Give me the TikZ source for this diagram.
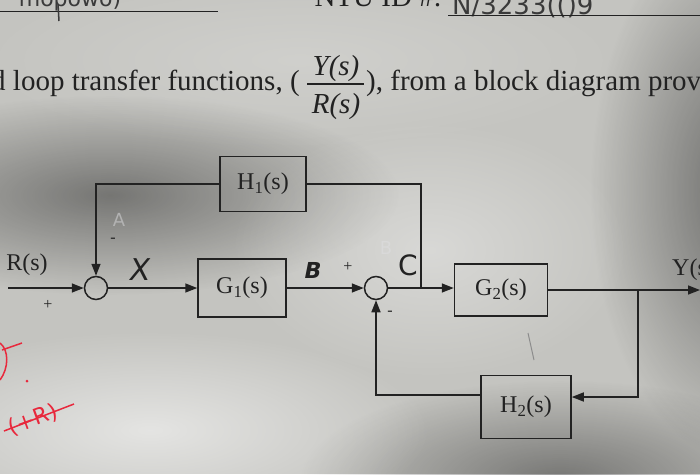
\documentclass[tikz,border=0pt]{standalone}
\usepackage{fontspec}
\setmainfont{Liberation Serif}
\newfontfamily\handfont{DejaVu Sans}
\usetikzlibrary{arrows.meta,fadings}
\tikzfading[name=softedge, inner color=transparent!0, outer color=transparent!100]
\definecolor{ink}{HTML}{222222}
\definecolor{paper}{HTML}{C4C4C0}
\definecolor{redink}{HTML}{E8283C}
\definecolor{pencil}{HTML}{3A3A3A}
\begin{document}
\begin{tikzpicture}[x=1pt,y=-1pt,
  blk/.style={draw=ink, line width=1.5pt, inner sep=0pt, text=ink, font=\fontsize{24}{28}\selectfont},
  sumc/.style={circle, draw=ink, line width=1.5pt, minimum size=23pt, inner sep=0pt},
  wire/.style={draw=ink, line width=1.5pt},
  arr/.style={wire, -{Triangle[length=12pt,width=9pt]}},
  lbl/.style={text=ink, inner sep=0pt, font=\fontsize{24}{28}\selectfont},
  toptext/.style={text=ink, inner sep=0pt, font=\fontsize{29}{32}\selectfont},
  sign/.style={text=ink, inner sep=0pt, font=\fontsize{16}{18}\selectfont},
  hand/.style={inner sep=0pt, font=\handfont\fontsize{22}{26}\selectfont}]
\useasboundingbox (0,0) rectangle (700,474);
\clip (0,0) rectangle (700,474);
% background (photographed paper)
\fill[paper] (0,0) rectangle (700,474);
\fill[black, opacity=.40, path fading=softedge] (110,195) ellipse (290 and 100);
\fill[black, opacity=.45, path fading=softedge] (740,190) ellipse (150 and 270);
\fill[black, opacity=.40, path fading=softedge] (560,480) ellipse (260 and 100);
\fill[white, opacity=.55, path fading=softedge] (150,430) ellipse (280 and 100);
\fill[white, opacity=.35, path fading=softedge] (430,250) ellipse (200 and 130);
\fill[white, opacity=.20, path fading=softedge] (300,60) ellipse (330 and 90);
% header
\draw[ink, line width=1pt] (0,11) -- (218,11);
\node[hand, text=pencil, anchor=base] at (70,6) {mopowo)};
\draw[pencil, line width=1.5pt] (58,4) -- (59,21);
\node[toptext, anchor=base east] at (442,6) {NTU ID \#:};
\node[hand, text=pencil, anchor=base west, font=\handfont\fontsize{26}{28}\selectfont] at (452,14) {N/3233(()9};
\draw[ink, line width=1pt] (448,15) -- (700,15);
% question text
\node[toptext, anchor=base west] (q1) at (-9,90) {d loop transfer functions, (};
\node[toptext, anchor=base] (num) at (336,75) {\itshape Y(s)};
\draw[ink, line width=1.2pt] (307,84) -- (364,84);
\node[toptext, anchor=base] (den) at (336,113) {\itshape R(s)};
\node[toptext, anchor=base west] (q2) at (366,90) {), from a block diagram provided};
% blocks
\node[sumc] (s1) at (96,288) {};
\node[blk, minimum width=88pt, minimum height=58pt] (G1) at (242,288) {G\textsubscript{1}(s)};
\node[sumc] (s2) at (376,288) {};
\node[blk, minimum width=93pt, minimum height=52pt] (G2) at (501,290) {G\textsubscript{2}(s)};
\node[blk, minimum width=86pt, minimum height=55pt] (H1) at (263,184) {H\textsubscript{1}(s)};
\node[blk, minimum width=90pt, minimum height=63pt] (H2) at (526,407) {H\textsubscript{2}(s)};
\coordinate (Rin) at (8,288);
\coordinate (j1) at (421,288);
\coordinate (j2) at (638,290);
\coordinate (Yout) at (700,290);
% connectors
\draw[arr] (Rin) -- (s1);
\draw[arr] (s1) -- (G1);
\draw[arr] (G1) -- (s2);
\draw[arr] (s2.east) -- (s2.east -| G2.west);
\draw[wire] (j1) |- (H1.east);
\draw[arr] (H1.west) -| (s1.north);
\draw[arr] (G2.east |- Yout) -- (Yout);
\draw[arr] (j2) |- ([yshift=10pt]H2.east);
\draw[arr] ([yshift=12pt]H2.west) -| (s2.south);
% labels
\node[lbl] (lR) at (27,265) {R(s)};
\node[lbl, anchor=west] (lY) at (672,270) {Y(s)};
\node[sign] at (48,305) {+};
\node[sign] at (113,240) {-};
\node[sign] at (348,267) {+};
\node[sign] at (390,313) {-};
% handwritten annotations
\node[hand, text=ink, font=\handfont\fontsize{30}{32}\selectfont, xslant=.15] at (140,270) {X};
\node[hand, text=ink, font=\handfont\bfseries\fontsize{22}{26}\selectfont, xslant=.2] at (313,270) {B};
\node[hand, text=ink, font=\handfont\fontsize{28}{30}\selectfont] at (408,265) {C};
\node[hand, text=black!30, font=\handfont\fontsize{18}{20}\selectfont] at (119,220) {A};
\node[hand, text=black!15, font=\handfont\fontsize{18}{20}\selectfont] at (386,248) {B};
\draw[black!45, line width=1pt] (528,333) -- (534,360);
% red marks
\draw[redink, line width=1.5pt] (0,343) .. controls (9,350) and (9,368) .. (0,380);
\draw[redink, line width=1.5pt] (2,350) -- (22,343);
\fill[redink] (27,381) circle (1.5);
\node[hand, text=redink, rotate=20] at (33,420) {(+R)};
\draw[redink, line width=1.5pt] (4,431) -- (74,404);
\end{tikzpicture}
\end{document}
